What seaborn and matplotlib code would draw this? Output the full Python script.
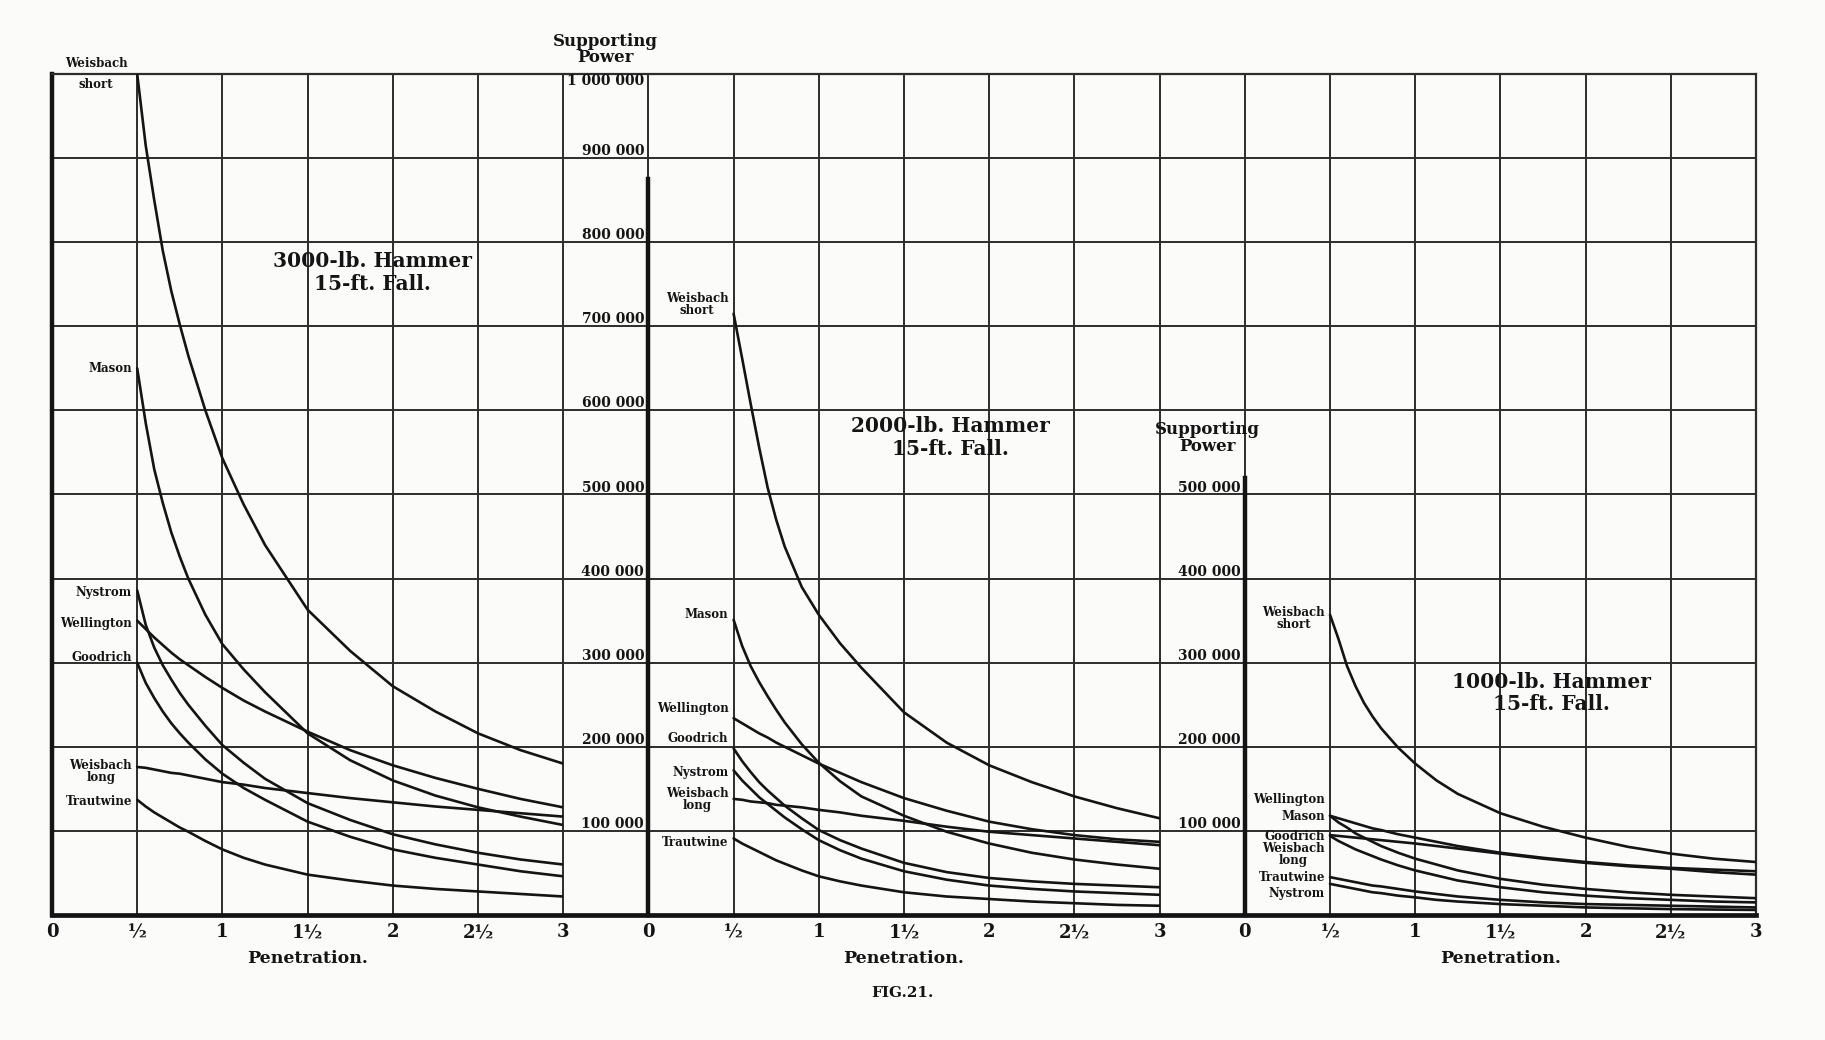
import numpy as np
import pandas as pd
import matplotlib
matplotlib.use("Agg")
import matplotlib.pyplot as plt
import seaborn as sns

sns.set_theme(style="white")
plt.rcParams['font.family'] = ['DejaVu Serif']
plt.rcParams['font.weight'] = 'bold'

# ---------------- data (supporting power in thousands of lb) ----------------
penetration = [0.5, 0.55, 0.6, 0.65, 0.7, 0.75, 0.8, 0.9, 1.0, 1.125, 1.25,
               1.5, 1.75, 2.0, 2.25, 2.5, 2.75, 3.0]

h3000_weisbach_short = [1000, 915, 850, 790, 742, 702, 665, 600, 543, 488, 440, 363, 314, 272, 242, 216, 196, 180]
h3000_mason          = [650, 585, 530, 490, 455, 426, 400, 357, 322, 292, 265, 216, 184, 160, 142, 128, 117, 107]
h3000_wellington     = [350, 340, 330, 321, 312, 304, 297, 283, 270, 255, 242, 218, 196, 178, 163, 150, 138, 128]
h3000_nystrom        = [386, 345, 318, 297, 280, 264, 250, 225, 202, 181, 162, 133, 113, 96, 84, 74, 66, 60]
h3000_goodrich       = [300, 276, 258, 242, 228, 216, 205, 185, 168, 151, 137, 111, 93, 78, 68, 60, 52, 46]
h3000_weisbach_long  = [176, 175, 173, 171, 169, 168, 166, 162, 158, 155, 151, 145, 139, 134, 129, 125, 121, 117]
h3000_trautwine      = [137, 129, 122, 116, 110, 104, 99, 88, 78, 68, 60, 48, 41, 35, 31, 28, 25, 22]

h2000_weisbach_short = [715, 662, 608, 556, 508, 470, 438, 390, 357, 323, 294, 241, 205, 178, 158, 141, 127, 115]
h2000_mason          = [351, 320, 296, 277, 260, 244, 229, 203, 181, 159, 141, 118, 99, 85, 74, 66, 60, 55]
h2000_wellington     = [234, 228, 222, 216, 211, 205, 200, 190, 180, 169, 158, 139, 124, 111, 102, 95, 90, 87]
h2000_nystrom        = [172, 160, 150, 140, 132, 124, 116, 102, 89, 77, 67, 52, 42, 35, 31, 28, 26, 24]
h2000_goodrich       = [198, 183, 170, 158, 148, 139, 130, 115, 101, 89, 79, 62, 51, 44, 40, 37, 35, 33]
h2000_weisbach_long  = [138, 137, 135, 134, 133, 131, 130, 128, 125, 122, 118, 112, 105, 99, 95, 91, 87, 83]
h2000_trautwine      = [91, 85, 80, 75, 70, 65, 61, 53, 46, 40, 35, 27, 22, 19, 16, 14, 12, 11]

h1000_weisbach_short = [357, 328, 296, 272, 252, 236, 222, 199, 180, 160, 144, 121, 105, 92, 81, 73, 67, 63]
h1000_mason          = [118, 110, 104, 97, 92, 87, 82, 74, 67, 60, 53, 43, 36, 31, 27, 24, 22, 20]
h1000_wellington     = [118, 115, 112, 109, 106, 103, 101, 96, 92, 87, 82, 74, 68, 63, 59, 56, 54, 52]
h1000_nystrom        = [37, 35, 33, 31, 29, 27, 26, 23, 21, 18, 16, 13, 11, 9, 8, 7, 6.5, 6]
h1000_goodrich       = [94, 88, 83, 78, 74, 70, 66, 59, 53, 47, 41, 33, 27, 23, 20, 18, 16, 15]
h1000_weisbach_long  = [95, 94, 93, 92, 91, 90, 89, 87, 85, 82, 79, 73, 67, 62, 58, 55, 51, 48]
h1000_trautwine      = [45, 43, 41, 39, 37, 35, 34, 31, 28, 25, 22, 18, 15, 13, 12, 11, 10, 9]

formulas = ["Weisbach short", "Mason", "Wellington", "Nystrom", "Goodrich",
            "Weisbach long", "Trautwine"]

x_ticks = [0, 0.5, 1, 1.5, 2, 2.5, 3]
x_tick_labels = ["0", "½", "1", "1½", "2", "2½", "3"]
y_ticks_2000 = [100, 200, 300, 400, 500, 600, 700, 800, 900, 1000]
y_labels_2000 = ["100 000", "200 000", "300 000", "400 000", "500 000",
                 "600 000", "700 000", "800 000", "900 000", "1 000 000"]
y_ticks_1000 = [100, 200, 300, 400, 500]
y_labels_1000 = ["100 000", "200 000", "300 000", "400 000", "500 000"]

titles = ["3000-lb. Hammer\n15-ft. Fall.",
          "2000-lb. Hammer\n15-ft. Fall.",
          "1000-lb. Hammer\n15-ft. Fall."]

series = [
    [h3000_weisbach_short, h3000_mason, h3000_wellington, h3000_nystrom,
     h3000_goodrich, h3000_weisbach_long, h3000_trautwine],
    [h2000_weisbach_short, h2000_mason, h2000_wellington, h2000_nystrom,
     h2000_goodrich, h2000_weisbach_long, h2000_trautwine],
    [h1000_weisbach_short, h1000_mason, h1000_wellington, h1000_nystrom,
     h1000_goodrich, h1000_weisbach_long, h1000_trautwine],
]

# ---------------- layout / style ----------------
W, H = 1825, 1040
GL, CW, GT, GB = 52, 85.2, 74, 915     # grid left, cell width, top, bottom (px)
INK = "#141414"
GRID = "#2c2c2c"
BG = "#fbfbfa"

# (text, x, y, ha, linespacing)
curve_labels = [
    [("Weisbach\nshort", 0.26, 1000, "center", 1.75), ("Mason", 0.47, 650, "right", 0.9),
     ("Nystrom", 0.47, 384, "right", 0.9), ("Wellington", 0.47, 347, "right", 0.9),
     ("Goodrich", 0.47, 306, "right", 0.9), ("Weisbach\nlong", 0.47, 171, "right", 0.9),
     ("Trautwine", 0.47, 135, "right", 0.9)],
    [("Weisbach\nshort", 0.47, 726, "right", 0.9), ("Mason", 0.47, 357, "right", 0.9),
     ("Wellington", 0.47, 246, "right", 0.9), ("Goodrich", 0.47, 210, "right", 0.9),
     ("Nystrom", 0.47, 170, "right", 0.9), ("Weisbach\nlong", 0.47, 137, "right", 0.9),
     ("Trautwine", 0.47, 86, "right", 0.9)],
    [("Weisbach\nshort", 0.47, 353, "right", 0.9), ("Wellington", 0.47, 137, "right", 0.9),
     ("Mason", 0.47, 117, "right", 0.9), ("Goodrich", 0.47, 93, "right", 0.9),
     ("Weisbach\nlong", 0.47, 72, "right", 0.9), ("Trautwine", 0.47, 44, "right", 0.9),
     ("Nystrom", 0.47, 26, "right", 0.9)],
]
title_pos = [(1.88, 764), (1.77, 568), (1.80, 264)]

fig = plt.figure(figsize=(W / 100, H / 100), dpi=100)
fig.patch.set_facecolor(BG)

fx0 = GL / W
fcw = CW / W
fy0 = (H - GB) / H
fh = (GB - GT) / H

# background grid spanning all three panels and the gaps between them
bg = fig.add_axes([fx0, fy0, 20 * fcw, fh])
bg.set_facecolor(BG)
bg.set_xlim(0, 20)
bg.set_ylim(0, 10)
bg.set_xticks(np.arange(0, 21))
bg.set_yticks(np.arange(0, 11))
bg.grid(True, color=GRID, lw=1.4)
bg.tick_params(length=0, labelbottom=False, labelleft=False)
for s in ["top", "right"]:
    bg.spines[s].set(lw=1.6, color=GRID)
bg.spines["left"].set(lw=3.2, color=INK)
bg.spines["bottom"].set(lw=3.4, color=INK)

for k in range(3):
    ax = fig.add_axes([fx0 + 7 * k * fcw, fy0, 6 * fcw, fh])
    ax.patch.set_alpha(0)
    rows = []
    for name, vals in zip(formulas, series[k]):
        for p, v in zip(penetration, vals):
            rows.append({"penetration": p, "power": v, "formula": name})
    df = pd.DataFrame(rows)
    sns.lineplot(data=df, x="penetration", y="power", units="formula",
                 estimator=None, color=INK, lw=1.9, ax=ax, legend=False)
    for ln in ax.get_lines():
        ln.set_solid_joinstyle("round")
    ax.set_xlim(0, 3)
    ax.set_ylim(0, 1000)
    ax.set_xticks(x_ticks, x_tick_labels)
    ax.tick_params(axis="x", length=0, pad=6, labelsize=13, colors=INK)
    ax.tick_params(axis="y", length=0, pad=3, labelsize=10, colors=INK)
    ax.set_xlabel("Penetration.", fontsize=12.5, labelpad=6, color=INK,
                  fontweight="bold")
    ax.set_ylabel("")
    for s in ["top", "right", "bottom"]:
        ax.spines[s].set_visible(False)
    if k == 0:
        ax.set_yticks([])
        ax.spines["left"].set_visible(False)
    else:
        if k == 1:
            ax.set_yticks(y_ticks_2000, y_labels_2000)
            ax.spines["left"].set_bounds(0, 875)
            sp = (-0.25, 1029)
        else:
            ax.set_yticks(y_ticks_1000, y_labels_1000)
            ax.spines["left"].set_bounds(0, 520)
            sp = (-0.22, 567)
        ax.spines["left"].set(lw=3.2, color=INK)
        labels = ax.get_yticklabels()
        for lbl in labels:
            lbl.set_verticalalignment("bottom")
        if k == 1:
            labels[-1].set_verticalalignment("top")
        ax.text(sp[0], sp[1], "Supporting\nPower", ha="center", va="center",
                fontsize=12, linespacing=0.95, color=INK, clip_on=False)
    tx, ty = title_pos[k]
    ax.text(tx, ty, titles[k], ha="center", va="center", fontsize=14.5,
            multialignment="center", color=INK, linespacing=1.15)
    for txt, lx, ly, ha, ls in curve_labels[k]:
        ax.text(lx, ly, txt, ha=ha, va="center", fontsize=8.5,
                multialignment="center", linespacing=ls, color=INK,
                clip_on=False)

fig.text(902 / W, 1 - 993 / H, "FIG.21.", ha="center", va="center",
         fontsize=11, color=INK)

fig.savefig("out.png", dpi=100, facecolor=BG)
